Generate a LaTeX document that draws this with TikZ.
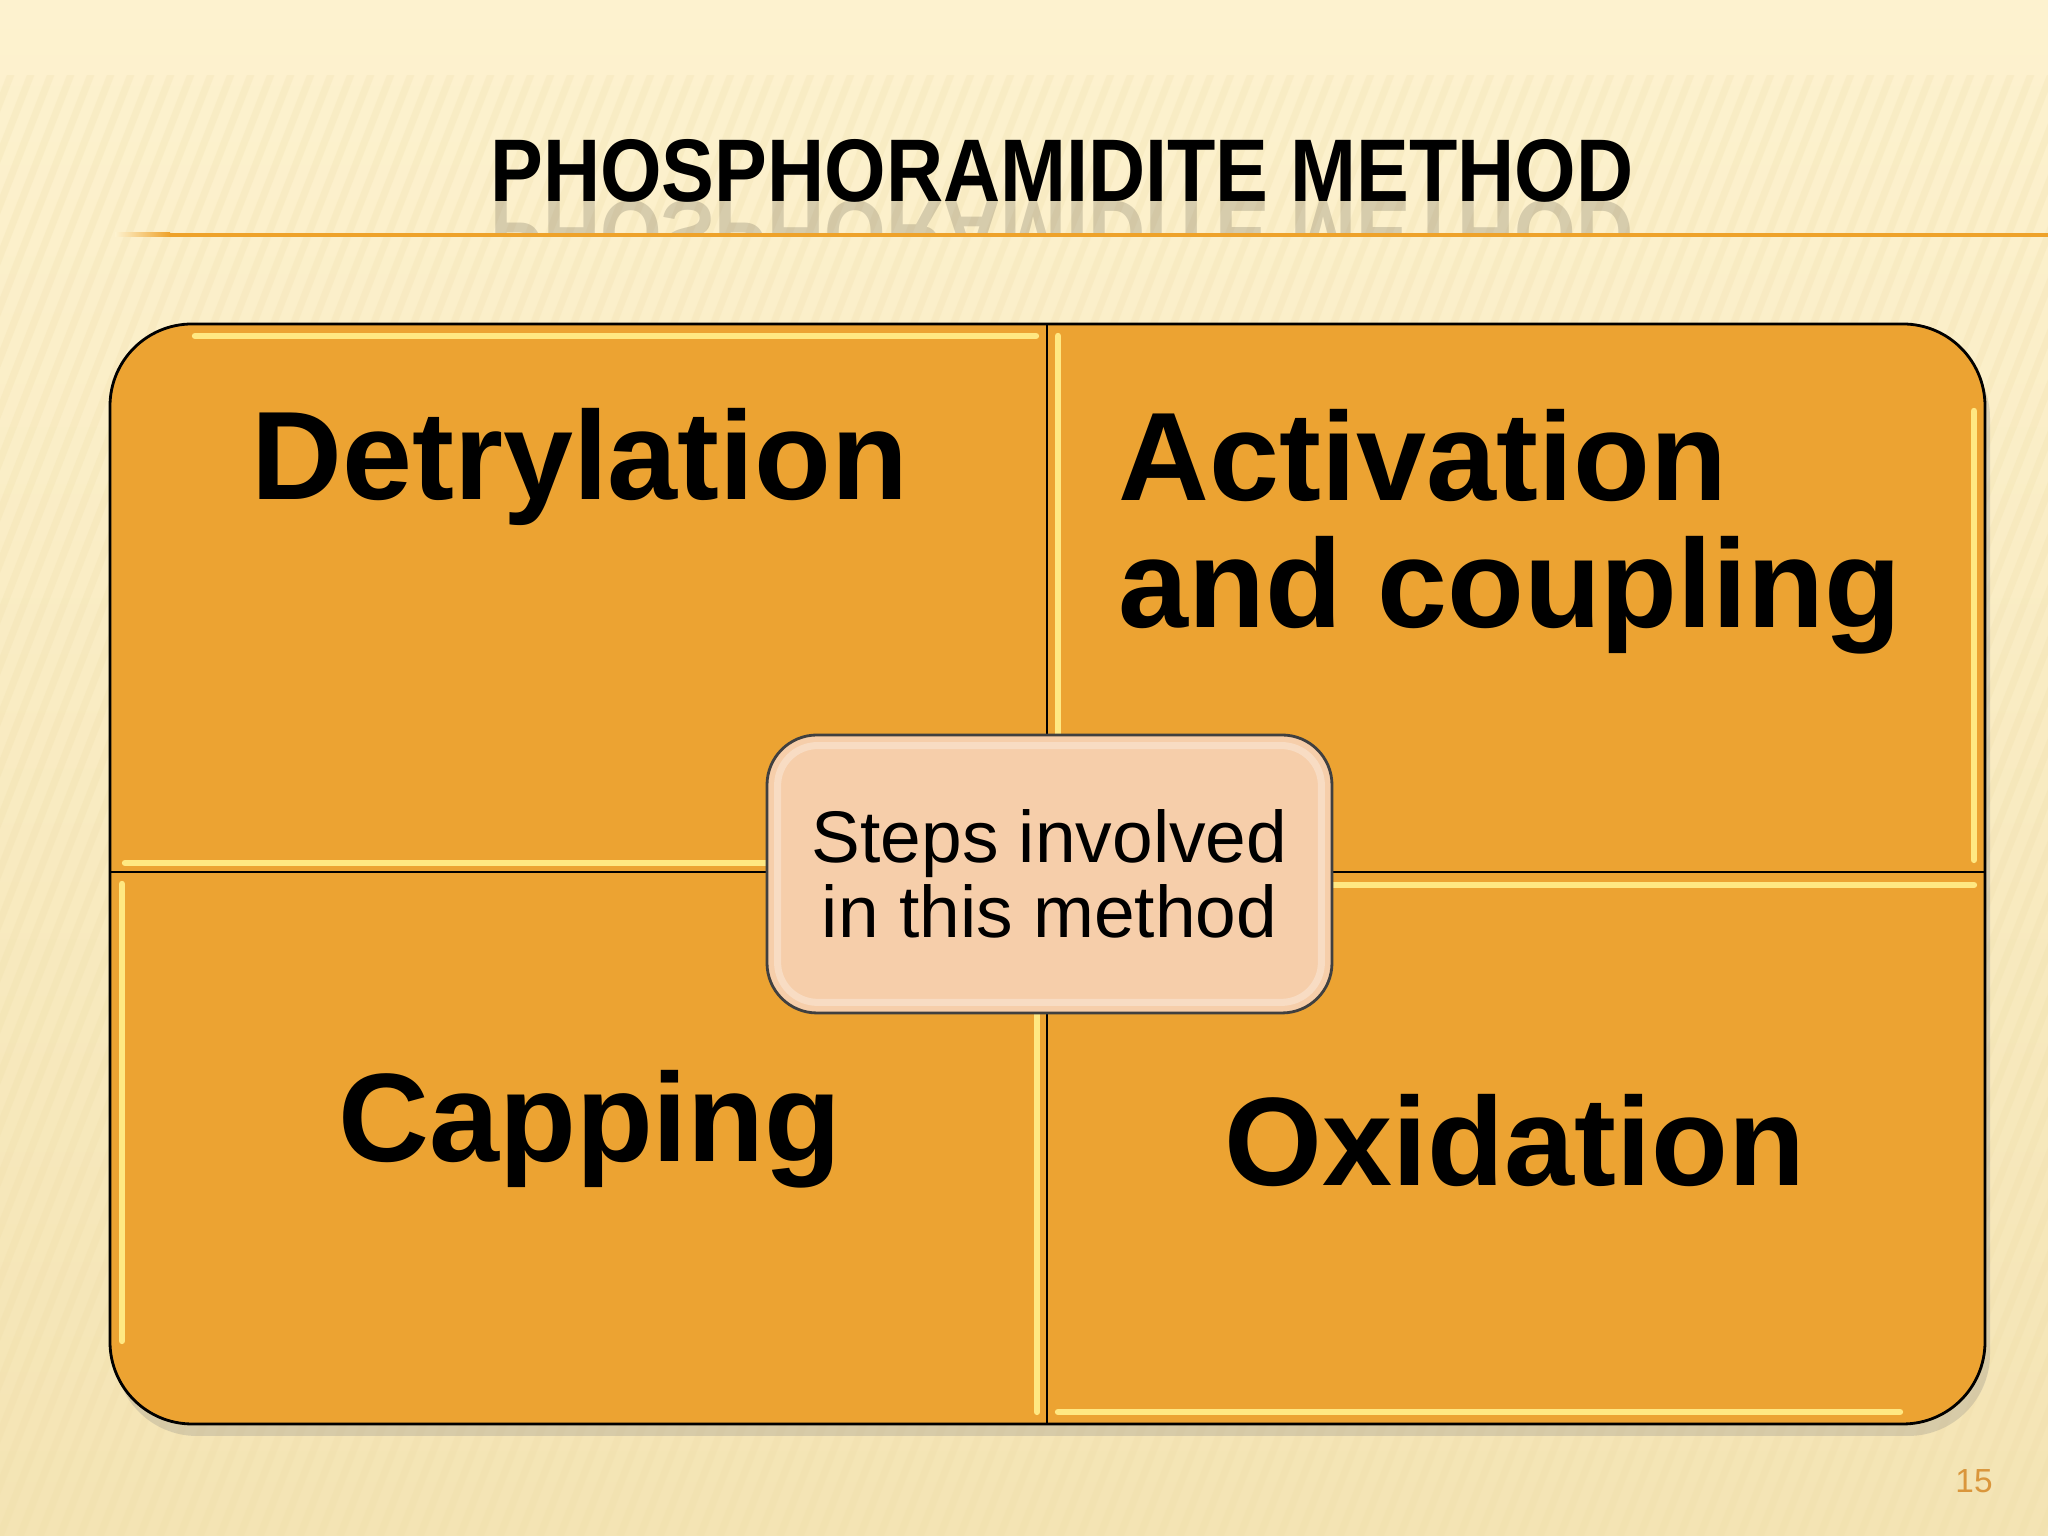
\documentclass[tikz,border=0pt]{standalone}
\usepackage{fontspec}
\setmainfont{Liberation Sans}
\newfontfamily\titlefont[FakeStretch=0.89]{Liberation Sans}
\usetikzlibrary{shadows}

\definecolor{cream}{RGB}{253,242,207}
\definecolor{creamdark}{RGB}{244,228,180}
\definecolor{stripe}{RGB}{236,218,162}
\definecolor{quad}{RGB}{236,163,50}
\definecolor{gloss}{RGB}{255,232,130}
\definecolor{peach}{RGB}{246,206,170}
\definecolor{rulecol}{RGB}{238,162,42}
\definecolor{pagenum}{RGB}{218,150,60}

\begin{document}
\begin{tikzpicture}[x=10mm, y=10mm,
  step label/.style={font=\fontsize{35.8}{36.4}\selectfont\bfseries, inner sep=0pt},
  gloss line/.style={gloss, line width=1.8pt, line cap=round},
  title font/.style={font=\titlefont\bfseries\fontsize{25.3}{30}\selectfont, inner sep=0pt}]

  \useasboundingbox (0,0) rectangle (20.48,15.36);

  % background with faint stripes
  \shade[top color=cream, bottom color=creamdark] (0,0) rectangle (20.48,15.36);
  \begin{scope}
    \clip (0,0) rectangle (20.48,14.6);
    \foreach \s in {-6,-5.8,...,20.4}
      \draw[stripe, line width=2pt, opacity=.2] (\s,0) -- ++(6,15.36);
  \end{scope}

  % title and its reflection
  \node[title font, anchor=base] (title) at (10.62,13.34) {PHOSPHORAMIDITE METHOD};
  \begin{scope}
    \clip (0,13.0) rectangle (20.48,13.34);
    \node[title font, anchor=base, yscale=-1, opacity=.15] (mirror) at (10.62,13.34) {PHOSPHORAMIDITE METHOD};
  \end{scope}
  \shade[left color=cream, right color=rulecol] (1.15,12.99) rectangle (1.7,13.03);
  \fill[rulecol] (1.7,12.99) rectangle (20.48,13.03);

  % the four panels
  \filldraw[fill=quad, draw=black, line width=.8pt, rounded corners=8.2mm,
    drop shadow={shadow xshift=.5mm, shadow yshift=-1.2mm, opacity=.25}]
    (1.10,1.12) rectangle (19.85,12.12);
  \begin{scope}[line width=.8pt]
    \draw (10.47,1.12) -- (10.47,12.12);
    \draw (1.10,6.64) -- (19.85,6.64);
  \end{scope}

  \begin{scope}[gloss line]
    \draw (1.95,12.00) -- (10.36,12.00);
    \draw (1.25,6.73) -- (10.36,6.73);
    \draw (10.58,12.00) -- (10.58,6.76);
    \draw (19.74,11.25) -- (19.74,6.76);
    \draw (1.22,6.52) -- (1.22,1.95);
    \draw (10.37,6.52) -- (10.37,1.24);
    \draw (10.58,6.51) -- (19.74,6.51);
    \draw (10.58,1.24) -- (19.00,1.24);
  \end{scope}

  \node[step label, anchor=base] (detr) at (5.80,10.36) {Detrylation};
  \node[step label, anchor=base west, align=left] (activ) at (11.18,9.08) {Activation\\and coupling};
  \node[step label, anchor=base] (capp) at (5.90,3.74) {Capping};
  \node[step label, anchor=base] (oxid) at (15.15,3.50) {Oxidation};

  % centre box
  \node[fill=peach, draw=black!75, line width=.8pt, rounded corners=5mm,
    minimum width=56.5mm, minimum height=27.8mm, align=center,
    font=\fontsize{20.8}{21.3}\selectfont] (steps) at (10.495,6.62) {Steps involved\\in this method};
  \draw[white, opacity=.3, line width=2pt, rounded corners=4mm]
    ([shift={(.12,.12)}]steps.south west) rectangle ([shift={(-.12,-.12)}]steps.north east);

  \node[font=\fontsize{9.5}{11}\selectfont, text=pagenum] (page) at (19.74,0.55) {15};
\end{tikzpicture}
\end{document}
